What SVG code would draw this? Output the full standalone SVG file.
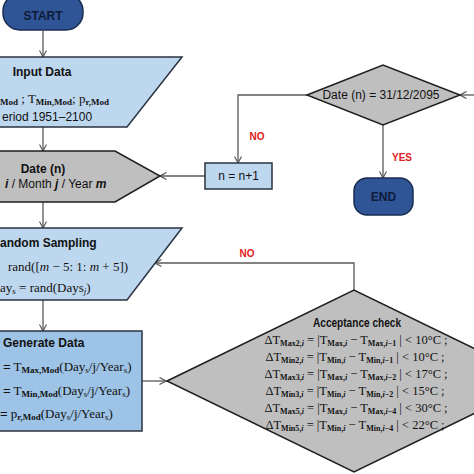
<svg xmlns="http://www.w3.org/2000/svg" width="474" height="474" viewBox="0 0 474 474">
<defs>
<marker id="arr" markerWidth="8" markerHeight="8" refX="7" refY="4" orient="auto" markerUnits="userSpaceOnUse">
<path d="M0.5,0.5 L7,4 L0.5,7.5" fill="none" stroke="#595959" stroke-width="1.2"/>
</marker>
</defs>
<style>
.conn{fill:none;stroke:#595959;stroke-width:1.3;marker-end:url(#arr)}
.lb{fill:#bdd7ee;stroke:#2a3340;stroke-width:1.5}
.mb{fill:#9dc3e6;stroke:#2a3340;stroke-width:1.5}
.gr{fill:#bfbfbf;stroke:#1e1e1e;stroke-width:1.5}
.term{fill:#2f5597;stroke:#1a2c52;stroke-width:1.5}
.tt{font-family:"Liberation Sans",Arial,sans-serif;font-weight:bold;font-size:12px;fill:#0f1b3a}
.h{font-family:"Liberation Sans",Arial,sans-serif;font-weight:bold;font-size:12px;fill:#111}
.s{font-family:"Liberation Sans",Arial,sans-serif;font-size:12px;fill:#111}
.m{font-family:"Liberation Serif","Times New Roman",serif;font-size:13px;fill:#111}
.f{font-family:"Liberation Serif","Times New Roman",serif;font-size:12.5px;fill:#111}
.sub{font-size:8px;font-weight:bold}
.ms{font-size:9px;font-weight:bold}
.red{font-family:"Liberation Sans",Arial,sans-serif;font-weight:bold;font-size:10px;fill:#e02020}
</style>

<g id="connectors">
<line class="conn" x1="43" y1="31" x2="43" y2="57"/>
<line class="conn" x1="43" y1="127" x2="43" y2="151"/>
<line class="conn" x1="43" y1="202" x2="43" y2="228"/>
<line class="conn" x1="43" y1="300" x2="43" y2="331"/>
<line class="conn" x1="142" y1="381" x2="166" y2="381"/>
<path class="conn" d="M354,290 V263 H155"/>
<line class="conn" x1="474" y1="95" x2="460" y2="95"/>
<path class="conn" d="M307,95 H238 V163"/>
<line class="conn" x1="205" y1="176" x2="160" y2="176"/>
<line class="conn" x1="383" y1="125" x2="383" y2="178"/>
<text class="red" x="257" y="140" text-anchor="middle">NO</text>
<text class="red" x="402" y="161" text-anchor="middle">YES</text>
<text class="red" x="247" y="257" text-anchor="middle">NO</text>
</g>

<g id="start">
<rect class="term" x="3" y="-6" width="80" height="36" rx="17"/>
<text class="tt" x="43" y="20" text-anchor="middle">START</text>
</g>

<g id="input-data">
<polygon class="lb" points="-60,57 182,57 127,127 -60,127"/>
<text class="h" x="42" y="76" text-anchor="middle">Input  Data</text>
<text class="m" x="0" y="103" font-size="14"><tspan class="ms" dy="2">Mod</tspan><tspan dy="-2"> ; T</tspan><tspan class="ms" dy="2">Min,Mod</tspan><tspan dy="-2">; p</tspan><tspan class="ms" dy="2">r,Mod</tspan></text>
<text class="s" x="2" y="121">eriod 1951–2100</text>
</g>

<g id="date-n">
<polygon class="gr" points="-60,151 115,151 160,176 115,202 -60,202"/>
<text class="h" x="43" y="173" text-anchor="middle">Date (n)</text>
<text class="s" x="5" y="188"><tspan font-weight="bold" font-style="italic">i</tspan> / Month <tspan font-weight="bold" font-style="italic">j</tspan> / Year <tspan font-weight="bold" font-style="italic">m</tspan></text>
</g>

<g id="random-sampling">
<polygon class="lb" points="-60,228 182,228 127,300 -60,300"/>
<text class="h" x="0" y="247">andom Sampling</text>
<text class="m" x="8" y="271">rand([<tspan font-style="italic">m</tspan> − 5: 1: <tspan font-style="italic">m</tspan> + 5])</text>
<text class="m" x="0" y="292">ay<tspan font-size="9" dy="2">s</tspan><tspan dy="-2"> = rand(Days</tspan><tspan font-size="9" font-style="italic" dy="2">j</tspan><tspan dy="-2">)</tspan></text>
</g>

<g id="generate-data">
<rect class="mb" x="-5" y="331" width="147" height="100"/>
<text class="h" x="3" y="347">Generate Data</text>
<text class="m" x="3" y="371"><tspan font-family="Liberation Sans, Arial, sans-serif">=</tspan> T<tspan class="ms" dy="2">Max,Mod</tspan><tspan dy="-2">(Day</tspan><tspan font-size="9" dy="2">s</tspan><tspan dy="-2">/j/Year</tspan><tspan font-size="9" dy="2">s</tspan><tspan dy="-2">)</tspan></text>
<text class="m" x="3" y="395"><tspan font-family="Liberation Sans, Arial, sans-serif">=</tspan> T<tspan class="ms" dy="2">Min,Mod</tspan><tspan dy="-2">(Day</tspan><tspan font-size="9" dy="2">s</tspan><tspan dy="-2">/j/Year</tspan><tspan font-size="9" dy="2">s</tspan><tspan dy="-2">)</tspan></text>
<text class="m" x="0" y="418"><tspan font-family="Liberation Sans, Arial, sans-serif">=</tspan> p<tspan class="ms" dy="2">r,Mod</tspan><tspan dy="-2">(Day</tspan><tspan font-size="9" dy="2">s</tspan><tspan dy="-2">/j/Year</tspan><tspan font-size="9" dy="2">s</tspan><tspan dy="-2">)</tspan></text>
</g>

<g id="acceptance-check">
<polygon class="gr" points="167,381 354,290 541,381 354,472"/>
<text class="h" x="357" y="327" text-anchor="middle" textLength="88" lengthAdjust="spacingAndGlyphs" font-size="13">Acceptance check</text>
<text class="f" x="356" y="344" text-anchor="middle">ΔT<tspan class="sub" dy="1.5">Max2,<tspan font-style="italic">i</tspan></tspan><tspan dy="-1.5"> = |T</tspan><tspan class="sub" dy="1.5">Max,<tspan font-style="italic">i</tspan></tspan><tspan dy="-1.5"> − T</tspan><tspan class="sub" dy="1.5">Max,<tspan font-style="italic">i</tspan>−1</tspan><tspan dy="-1.5"> | &lt; 10°C ;</tspan></text>
<text class="f" x="355" y="361" text-anchor="middle">ΔT<tspan class="sub" dy="1.5">Min2,<tspan font-style="italic">i</tspan></tspan><tspan dy="-1.5"> = |T</tspan><tspan class="sub" dy="1.5">Min,<tspan font-style="italic">i</tspan></tspan><tspan dy="-1.5"> − T</tspan><tspan class="sub" dy="1.5">Min,<tspan font-style="italic">i</tspan>−1</tspan><tspan dy="-1.5"> | &lt; 10°C ;</tspan></text>
<text class="f" x="356" y="378" text-anchor="middle">ΔT<tspan class="sub" dy="1.5">Max3,<tspan font-style="italic">i</tspan></tspan><tspan dy="-1.5"> = |T</tspan><tspan class="sub" dy="1.5">Max,<tspan font-style="italic">i</tspan></tspan><tspan dy="-1.5"> − T</tspan><tspan class="sub" dy="1.5">Max,<tspan font-style="italic">i</tspan>−2</tspan><tspan dy="-1.5"> | &lt; 17°C ;</tspan></text>
<text class="f" x="355" y="395" text-anchor="middle">ΔT<tspan class="sub" dy="1.5">Min3,<tspan font-style="italic">i</tspan></tspan><tspan dy="-1.5"> = |T</tspan><tspan class="sub" dy="1.5">Min,<tspan font-style="italic">i</tspan></tspan><tspan dy="-1.5"> − T</tspan><tspan class="sub" dy="1.5">Min,<tspan font-style="italic">i</tspan>−2</tspan><tspan dy="-1.5"> | &lt; 15°C ;</tspan></text>
<text class="f" x="356" y="412" text-anchor="middle">ΔT<tspan class="sub" dy="1.5">Max5,<tspan font-style="italic">i</tspan></tspan><tspan dy="-1.5"> = |T</tspan><tspan class="sub" dy="1.5">Max,<tspan font-style="italic">i</tspan></tspan><tspan dy="-1.5"> − T</tspan><tspan class="sub" dy="1.5">Max,<tspan font-style="italic">i</tspan>−4</tspan><tspan dy="-1.5"> | &lt; 30°C ;</tspan></text>
<text class="f" x="355" y="429" text-anchor="middle">ΔT<tspan class="sub" dy="1.5">Min5,<tspan font-style="italic">i</tspan></tspan><tspan dy="-1.5"> = |T</tspan><tspan class="sub" dy="1.5">Min,<tspan font-style="italic">i</tspan></tspan><tspan dy="-1.5"> − T</tspan><tspan class="sub" dy="1.5">Min,<tspan font-style="italic">i</tspan>−4</tspan><tspan dy="-1.5"> | &lt; 22°C ;</tspan></text>
</g>

<g id="date-check">
<polygon class="gr" points="307,95 383,65 460,95 383,125"/>
<text class="s" x="381" y="99" text-anchor="middle">Date (n) = 31/12/2095</text>
</g>

<g id="increment">
<rect class="lb" x="205" y="163" width="67" height="26"/>
<text class="s" x="238.5" y="180" text-anchor="middle">n = n+1</text>
</g>

<g id="end">
<rect class="term" x="354" y="178" width="59" height="37" rx="13"/>
<text class="tt" x="383.5" y="201" text-anchor="middle">END</text>
</g>
</svg>
